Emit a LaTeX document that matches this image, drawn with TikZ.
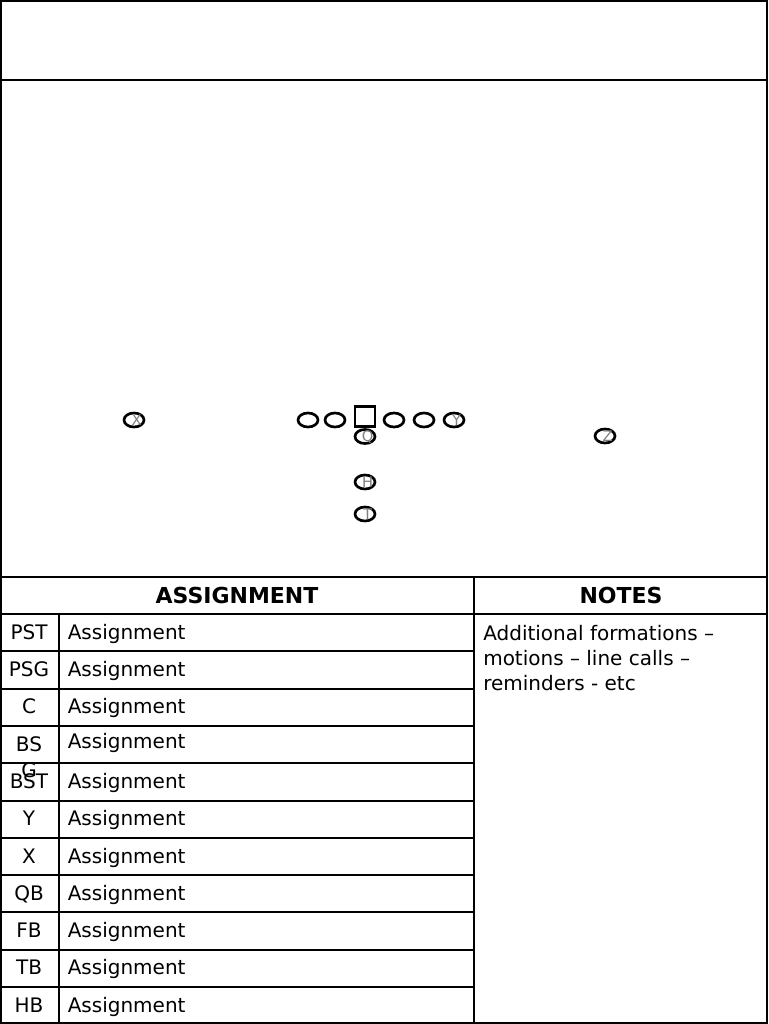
\documentclass[tikz,border=0pt]{standalone}
\usepackage{fontspec}
\setmainfont{DejaVu Sans}
\usetikzlibrary{shapes.geometric, positioning}

\begin{document}
\begin{tikzpicture}[x=0.75pt, y=-0.75pt,
    rule/.style={line width=1.5pt},
    player/.style={draw, ellipse, line width=2pt, minimum width=15pt, minimum height=10.5pt, inner sep=0pt},
    snapbox/.style={draw, rectangle, line width=2pt, minimum size=15pt, inner sep=0pt},
    tag/.style={text=gray, inner sep=0pt, xshift=2pt, font=\fontsize{11}{11}\selectfont},
    head/.style={font=\fontsize{16.5}{18}\selectfont\bfseries},
    posname/.style={anchor=base, inner sep=0pt, align=center, font=\fontsize{15}{18}\selectfont},
    job/.style={anchor=base west, inner sep=0pt, font=\fontsize{15}{18}\selectfont},
    ]
    \useasboundingbox (0,0) rectangle (768,1024);

    % Frame and sections
    \draw[rule] (1,1) rectangle (767,1023);
    \draw[rule] (0,80) -- (768,80);
    \draw[rule] (0,577) -- (768,577);
    \draw[rule] (0,614) -- (768,614);
    \draw[rule] (474,577) -- (474,1024);
    \draw[rule] (58.5,614) -- (58.5,1024);
    \foreach \i in {1,...,10}
        \draw[rule] (0,614+37.3*\i) -- (474,614+37.3*\i);

    % Formation
    \node[snapbox] (c) at (365,416.5) {};
    \node[player] (lg) at (335,420) {};
    \node[player] (lt) at (308,420) {};
    \node[player] (rg) at (394,420) {};
    \node[player] (rt) at (424,420) {};
    \node[player, label={[tag]center:Y}] (y) at (454,420) {};
    \node[player, label={[tag]center:X}] (x) at (134,420) {};
    \node[player, label={[tag]center:Z}] (z) at (605,436) {};
    \node[player, label={[tag]center:Q}] (qb) at (365,436.5) {};
    \node[player, label={[tag]center:H}] (hb) at (365,482) {};
    \node[player, label={[tag]center:T}] (tb) at (365,514) {};

    % Table headers
    \node[head] (assign) at (237,595.5) {ASSIGNMENT};
    \node[head] (notes) at (621,595.5) {NOTES};

    % Assignment rows
    \foreach \name/\base [count=\i from 0] in {PST/639.2, PSG/676.5, C/713.8, /748,
        BST/788.4, Y/825.7, X/863, QB/900.3, FB/937.6, TB/974.9, HB/1012.2} {
        \node[posname] (p\i) at (29,\base) {\name};
        \node[job] (a\i) at (67.5,\base) {Assignment};
    }
    \node[posname, font=\fontsize{15}{19.5}\selectfont] (bsg) at (29,777) {BS\\G};

    % Notes
    \node[anchor=north west, inner sep=0pt, align=left, font=\fontsize{15}{18.75}\selectfont] (memo) at (483,625)
        {Additional formations –\\motions – line calls –\\reminders - etc};
\end{tikzpicture}
\end{document}
